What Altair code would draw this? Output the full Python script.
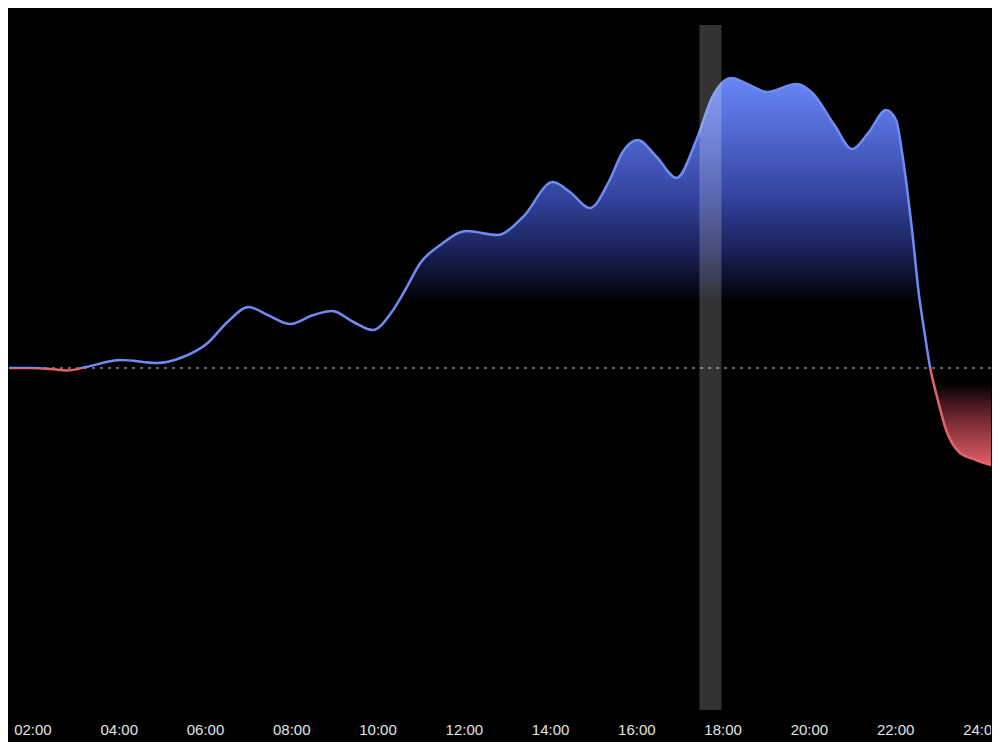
import altair as alt
import pandas as pd

# hour of day (decimal) and net value
hours = [1.26, 1.95, 2.42, 2.81, 3.23, 4.04, 4.89, 5.42, 6.05, 6.51, 7.00, 7.44, 7.97,
         8.50, 8.94, 9.43, 9.87, 10.35, 10.63, 10.98, 11.44, 12.06, 12.76, 13.36, 14.05,
         14.45, 14.91, 15.37, 15.67, 16.02, 16.46, 16.92, 17.38, 17.75, 18.19, 18.61,
         19.02, 19.70, 20.07, 20.58, 20.99, 21.38, 21.78, 22.01, 22.15, 22.26, 22.38,
         22.54, 22.66, 22.80, 22.96, 23.17, 23.47, 23.86, 24.39]
values = [0.0, 0.0, -0.1, -0.25, 0.1, 0.8, 0.5, 1.0, 2.5, 4.6, 6.1, 5.3, 4.4,
          5.3, 5.7, 4.6, 3.8, 5.8, 7.8, 10.5, 12.3, 13.7, 13.3, 15.1, 18.6,
          17.6, 16.0, 18.8, 21.6, 22.8, 21.1, 19.0, 22.8, 27.1, 29.0, 28.3,
          27.6, 28.4, 27.5, 24.3, 21.9, 23.6, 25.8, 24.8, 21.5, 18.1, 13.8,
          7.3, 3.8, 0.0, -2.9, -6.2, -8.4, -9.2, -9.9]
tick_hours = [2, 4, 6, 8, 10, 12, 14, 16, 18, 20, 22, 24]
tick_labels = ["02:00", "04:00", "06:00", "08:00", "10:00", "12:00",
               "14:00", "16:00", "18:00", "20:00", "22:00", "24:00"]
band_start = [17.45]
band_end = [17.96]
band_top = [34.3]
band_bottom = [-34.2]

df = pd.DataFrame({"hour": hours, "value": values, "base": [0.0] * len(hours)})
band_df = pd.DataFrame({"b0": band_start, "b1": band_end, "t": band_top, "b": band_bottom})
zero_df = pd.DataFrame({"level": [0.0]})
tick_df = pd.DataFrame({"hour": tick_hours, "label": tick_labels,
                        "ly": [-36.2] * len(tick_hours)})

vmax, vmin = max(values), min(values)


def off(v):
    return round((vmax - v) / (vmax - vmin), 4)


z = off(0)
line_grad = alt.Gradient(
    gradient="linear", x1=0, y1=0, x2=0, y2=1,
    stops=[
        alt.GradientStop(color="#6f8cf2", offset=0),
        alt.GradientStop(color="#6f8cf2", offset=z),
        alt.GradientStop(color="#e0646a", offset=z),
        alt.GradientStop(color="#e0646a", offset=1),
    ],
)
area_grad = alt.Gradient(
    gradient="linear", x1=0, y1=0, x2=0, y2=1,
    stops=[
        alt.GradientStop(color="rgb(104,134,246)", offset=0),
        alt.GradientStop(color="rgb(82,106,212)", offset=off(23.8)),
        alt.GradientStop(color="rgb(50,65,155)", offset=off(16.8)),
        alt.GradientStop(color="rgb(26,34,90)", offset=off(11.8)),
        alt.GradientStop(color="rgb(0,0,0)", offset=off(6.5)),
        alt.GradientStop(color="rgb(0,0,0)", offset=off(-1.5)),
        alt.GradientStop(color="rgb(115,40,50)", offset=off(-5.0)),
        alt.GradientStop(color="rgb(228,96,106)", offset=1),
    ],
)

xscale = alt.Scale(domain=[1.445, 24.21], nice=False, zero=False)
yscale = alt.Scale(domain=[-37.4, 36.0], nice=False, zero=False)

x_enc = alt.X("hour:Q", scale=xscale, axis=None)
y_enc = alt.Y("value:Q", scale=yscale, axis=None)

base = alt.Chart(df)

area = base.mark_area(interpolate="monotone", color=area_grad, clip=True).encode(
    x=x_enc, y=y_enc, y2="base:Q"
)
zero = alt.Chart(zero_df).mark_rule(color="#8a8a8a", strokeDash=[3, 5], strokeWidth=1.5).encode(
    y=alt.Y("level:Q", scale=yscale, axis=None)
)
line = base.mark_line(interpolate="monotone", stroke=line_grad, strokeWidth=2.5, clip=True).encode(
    x=x_enc, y=y_enc
)
band = alt.Chart(band_df).mark_rect(color="white", opacity=0.2).encode(
    x=alt.X("b0:Q", scale=xscale, axis=None), x2="b1:Q",
    y=alt.Y("t:Q", scale=yscale, axis=None), y2="b:Q"
)
labels = alt.Chart(tick_df).mark_text(
    color="#e2e2e2", fontSize=15, font="Liberation Sans", align="center",
    baseline="middle", clip=True
).encode(
    x=alt.X("hour:Q", scale=xscale, axis=None),
    y=alt.Y("ly:Q", scale=yscale, axis=None),
    text="label:N",
)

chart = alt.layer(area, zero, line, band, labels).properties(
    width=984, height=734,
    autosize=alt.AutoSizeParams(type="fit", contains="padding"),
    padding=0,
    background="black",
).configure_view(stroke=None)

chart.save("out.html", embed_options={"renderer": "svg", "actions": False})
